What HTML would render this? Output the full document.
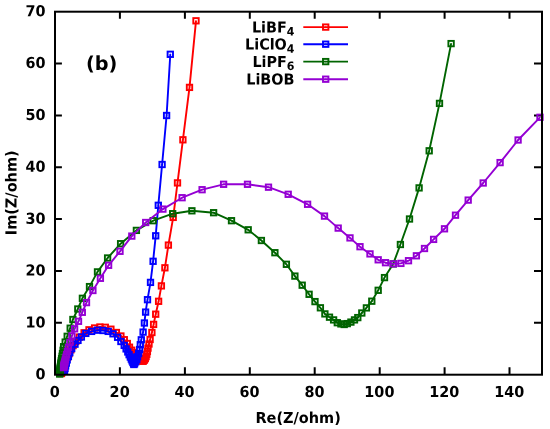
<!DOCTYPE html>
<html lang="en"><head><meta charset="utf-8"><title>Nyquist plot (b)</title>
<style>
html,body{margin:0;padding:0;background:#fff;}
body{width:550px;height:429px;overflow:hidden;position:relative;}
svg text{font-family:"DejaVu Sans","Liberation Sans",sans-serif;font-weight:bold;fill:#000;}
</style></head><body>
<svg width="550" height="429" viewBox="0 0 550 429" style="position:absolute;left:0;top:0">
<rect x="0" y="0" width="550" height="429" fill="#fff"/>
<defs>
<g id="m0"><rect x="-2.7" y="-2.7" width="5.4" height="5.4" fill="none" stroke="#ff0000" stroke-width="1.9"/><rect x="-0.6" y="-0.6" width="1.2" height="1.2" fill="#ff0000"/></g>
<g id="m1"><rect x="-2.7" y="-2.7" width="5.4" height="5.4" fill="none" stroke="#0000ff" stroke-width="1.9"/><rect x="-0.6" y="-0.6" width="1.2" height="1.2" fill="#0000ff"/></g>
<g id="m2"><rect x="-2.7" y="-2.7" width="5.4" height="5.4" fill="none" stroke="#006400" stroke-width="1.9"/><rect x="-0.6" y="-0.6" width="1.2" height="1.2" fill="#006400"/></g>
<g id="m3"><rect x="-2.7" y="-2.7" width="5.4" height="5.4" fill="none" stroke="#9400d3" stroke-width="1.9"/><rect x="-0.6" y="-0.6" width="1.2" height="1.2" fill="#9400d3"/></g>
</defs>
<path d="M119.9 374.7V367.2M119.9 11.7V18.7M184.9 374.7V367.2M184.9 11.7V18.7M249.8 374.7V367.2M249.8 11.7V18.7M314.7 374.7V367.2M314.7 11.7V18.7M379.7 374.7V367.2M379.7 11.7V18.7M444.6 374.7V367.2M444.6 11.7V18.7M509.5 374.7V367.2M509.5 11.7V18.7M55.0 322.8H61.9M542.0 322.8H534.0M55.0 271.0H61.9M542.0 271.0H534.0M55.0 219.1H61.9M542.0 219.1H534.0M55.0 167.3H61.9M542.0 167.3H534.0M55.0 115.4H61.9M542.0 115.4H534.0M55.0 63.6H61.9M542.0 63.6H534.0" stroke="#000" stroke-width="2" fill="none"/>
<path d="M196.0 20.8L189.5 87.4L182.9 139.8L177.5 182.9L173.2 217.4L168.4 245.1L164.9 267.8L161.4 285.9L158.6 301.3L155.7 314.2L153.6 324.4L151.9 332.5L150.1 339.5L149.0 344.0L148.0 348.1L147.4 351.5L146.8 354.3L146.1 356.6L145.3 358.6L144.4 360.1L143.2 360.9L142.8 361.1L142.8 361.1L141.5 360.3L140.2 359.3L138.8 358.0L137.3 356.5L135.6 354.7L133.7 352.6L131.7 350.2L129.5 347.2L127.3 343.5L124.3 339.7L120.9 336.0L116.4 332.5L110.9 329.2L105.3 327.3L99.9 327.0L94.6 328.0L89.0 329.8L84.1 332.8L79.3 337.1L75.8 341.4L73.1 345.6L70.9 349.8L69.1 353.7L67.6 357.3L66.3 360.7L65.1 363.9L64.0 366.7L63.0 369.4L62.1 371.8L61.5 373.5" fill="none" stroke="#ff0000" stroke-width="1.9" stroke-linejoin="round"/>
<use href="#m0" x="196.0" y="20.8"/>
<use href="#m0" x="189.5" y="87.4"/>
<use href="#m0" x="182.9" y="139.8"/>
<use href="#m0" x="177.5" y="182.9"/>
<use href="#m0" x="173.2" y="217.4"/>
<use href="#m0" x="168.4" y="245.1"/>
<use href="#m0" x="164.9" y="267.8"/>
<use href="#m0" x="161.4" y="285.9"/>
<use href="#m0" x="158.6" y="301.3"/>
<use href="#m0" x="155.7" y="314.2"/>
<use href="#m0" x="153.6" y="324.4"/>
<use href="#m0" x="151.9" y="332.5"/>
<use href="#m0" x="150.1" y="339.5"/>
<use href="#m0" x="149.0" y="344.0"/>
<use href="#m0" x="148.0" y="348.1"/>
<use href="#m0" x="147.4" y="351.5"/>
<use href="#m0" x="146.8" y="354.3"/>
<use href="#m0" x="146.1" y="356.6"/>
<use href="#m0" x="145.3" y="358.6"/>
<use href="#m0" x="144.4" y="360.1"/>
<use href="#m0" x="143.2" y="360.9"/>
<use href="#m0" x="142.8" y="361.1"/>
<use href="#m0" x="142.8" y="361.1"/>
<use href="#m0" x="141.5" y="360.3"/>
<use href="#m0" x="140.2" y="359.3"/>
<use href="#m0" x="138.8" y="358.0"/>
<use href="#m0" x="137.3" y="356.5"/>
<use href="#m0" x="135.6" y="354.7"/>
<use href="#m0" x="133.7" y="352.6"/>
<use href="#m0" x="131.7" y="350.2"/>
<use href="#m0" x="129.5" y="347.2"/>
<use href="#m0" x="127.3" y="343.5"/>
<use href="#m0" x="124.3" y="339.7"/>
<use href="#m0" x="120.9" y="336.0"/>
<use href="#m0" x="116.4" y="332.5"/>
<use href="#m0" x="110.9" y="329.2"/>
<use href="#m0" x="105.3" y="327.3"/>
<use href="#m0" x="99.9" y="327.0"/>
<use href="#m0" x="94.6" y="328.0"/>
<use href="#m0" x="89.0" y="329.8"/>
<use href="#m0" x="84.1" y="332.8"/>
<use href="#m0" x="79.3" y="337.1"/>
<use href="#m0" x="75.8" y="341.4"/>
<use href="#m0" x="73.1" y="345.6"/>
<use href="#m0" x="70.9" y="349.8"/>
<use href="#m0" x="69.1" y="353.7"/>
<use href="#m0" x="67.6" y="357.3"/>
<use href="#m0" x="66.3" y="360.7"/>
<use href="#m0" x="65.1" y="363.9"/>
<use href="#m0" x="64.0" y="366.7"/>
<use href="#m0" x="63.0" y="369.4"/>
<use href="#m0" x="62.1" y="371.8"/>
<use href="#m0" x="61.5" y="373.5"/>
<path d="M170.3 54.3L166.6 115.5L162.1 164.5L158.3 205.3L155.7 235.8L153.1 261.3L150.5 282.4L147.5 299.7L145.6 312.1L144.4 323.0L143.1 332.1L141.3 339.8L140.3 344.7L139.6 349.5L138.6 353.5L137.6 356.8L136.8 359.6L135.7 361.9L134.6 363.7L133.9 364.5L133.6 363.8L132.9 362.5L132.1 360.9L131.3 359.1L130.3 357.1L129.1 354.7L127.8 352.0L126.1 348.9L124.2 345.4L120.9 341.5L117.6 337.3L113.0 333.8L108.2 331.4L103.0 330.5L97.5 330.2L91.6 331.4L85.8 333.4L81.4 337.0L78.0 340.4L75.0 344.2L71.7 348.6L69.8 352.7L68.4 356.5L67.2 359.9L66.3 363.1L65.6 365.9L65.0 368.5L64.5 370.5" fill="none" stroke="#0000ff" stroke-width="1.9" stroke-linejoin="round"/>
<use href="#m1" x="170.3" y="54.3"/>
<use href="#m1" x="166.6" y="115.5"/>
<use href="#m1" x="162.1" y="164.5"/>
<use href="#m1" x="158.3" y="205.3"/>
<use href="#m1" x="155.7" y="235.8"/>
<use href="#m1" x="153.1" y="261.3"/>
<use href="#m1" x="150.5" y="282.4"/>
<use href="#m1" x="147.5" y="299.7"/>
<use href="#m1" x="145.6" y="312.1"/>
<use href="#m1" x="144.4" y="323.0"/>
<use href="#m1" x="143.1" y="332.1"/>
<use href="#m1" x="141.3" y="339.8"/>
<use href="#m1" x="140.3" y="344.7"/>
<use href="#m1" x="139.6" y="349.5"/>
<use href="#m1" x="138.6" y="353.5"/>
<use href="#m1" x="137.6" y="356.8"/>
<use href="#m1" x="136.8" y="359.6"/>
<use href="#m1" x="135.7" y="361.9"/>
<use href="#m1" x="134.6" y="363.7"/>
<use href="#m1" x="133.9" y="364.5"/>
<use href="#m1" x="133.6" y="363.8"/>
<use href="#m1" x="132.9" y="362.5"/>
<use href="#m1" x="132.1" y="360.9"/>
<use href="#m1" x="131.3" y="359.1"/>
<use href="#m1" x="130.3" y="357.1"/>
<use href="#m1" x="129.1" y="354.7"/>
<use href="#m1" x="127.8" y="352.0"/>
<use href="#m1" x="126.1" y="348.9"/>
<use href="#m1" x="124.2" y="345.4"/>
<use href="#m1" x="120.9" y="341.5"/>
<use href="#m1" x="117.6" y="337.3"/>
<use href="#m1" x="113.0" y="333.8"/>
<use href="#m1" x="108.2" y="331.4"/>
<use href="#m1" x="103.0" y="330.5"/>
<use href="#m1" x="97.5" y="330.2"/>
<use href="#m1" x="91.6" y="331.4"/>
<use href="#m1" x="85.8" y="333.4"/>
<use href="#m1" x="81.4" y="337.0"/>
<use href="#m1" x="78.0" y="340.4"/>
<use href="#m1" x="75.0" y="344.2"/>
<use href="#m1" x="71.7" y="348.6"/>
<use href="#m1" x="69.8" y="352.7"/>
<use href="#m1" x="68.4" y="356.5"/>
<use href="#m1" x="67.2" y="359.9"/>
<use href="#m1" x="66.3" y="363.1"/>
<use href="#m1" x="65.6" y="365.9"/>
<use href="#m1" x="65.0" y="368.5"/>
<use href="#m1" x="64.5" y="370.5"/>
<path d="M451.1 43.6L439.5 103.4L429.2 150.8L419.1 187.9L409.5 219.0L400.4 244.5L393.2 263.9L384.5 277.6L378.2 290.3L371.8 301.2L366.4 307.9L361.8 313.0L357.8 317.6L354.5 319.9L350.9 322.1L347.3 323.6L344.2 324.5L340.9 323.9L337.3 322.7L333.6 319.9L329.5 317.2L324.9 313.9L320.4 307.8L315.0 301.6L309.1 294.3L302.2 285.2L294.9 276.1L286.4 264.3L274.9 252.7L261.4 240.5L248.2 229.8L231.5 220.7L213.6 212.7L191.9 210.8L172.7 213.7L153.2 220.7L136.4 230.4L120.6 243.7L107.6 258.0L97.5 271.9L89.5 286.6L82.4 298.3L77.8 309.0L72.9 319.5L70.2 328.2L67.2 336.3L65.2 342.1L63.6 346.7L63.1 350.3L62.5 353.6L62.1 356.3L61.6 358.7L61.3 360.7L61.1 362.4L60.8 363.9L60.7 365.1L60.5 366.2L60.4 367.1L60.3 367.9L60.2 368.7L60.2 369.5L60.1 370.3L60.0 371.1L59.9 371.9L59.8 372.7L59.7 373.5L59.7 374.0" fill="none" stroke="#006400" stroke-width="1.9" stroke-linejoin="round"/>
<use href="#m2" x="451.1" y="43.6"/>
<use href="#m2" x="439.5" y="103.4"/>
<use href="#m2" x="429.2" y="150.8"/>
<use href="#m2" x="419.1" y="187.9"/>
<use href="#m2" x="409.5" y="219.0"/>
<use href="#m2" x="400.4" y="244.5"/>
<use href="#m2" x="393.2" y="263.9"/>
<use href="#m2" x="384.5" y="277.6"/>
<use href="#m2" x="378.2" y="290.3"/>
<use href="#m2" x="371.8" y="301.2"/>
<use href="#m2" x="366.4" y="307.9"/>
<use href="#m2" x="361.8" y="313.0"/>
<use href="#m2" x="357.8" y="317.6"/>
<use href="#m2" x="354.5" y="319.9"/>
<use href="#m2" x="350.9" y="322.1"/>
<use href="#m2" x="347.3" y="323.6"/>
<use href="#m2" x="344.2" y="324.5"/>
<use href="#m2" x="340.9" y="323.9"/>
<use href="#m2" x="337.3" y="322.7"/>
<use href="#m2" x="333.6" y="319.9"/>
<use href="#m2" x="329.5" y="317.2"/>
<use href="#m2" x="324.9" y="313.9"/>
<use href="#m2" x="320.4" y="307.8"/>
<use href="#m2" x="315.0" y="301.6"/>
<use href="#m2" x="309.1" y="294.3"/>
<use href="#m2" x="302.2" y="285.2"/>
<use href="#m2" x="294.9" y="276.1"/>
<use href="#m2" x="286.4" y="264.3"/>
<use href="#m2" x="274.9" y="252.7"/>
<use href="#m2" x="261.4" y="240.5"/>
<use href="#m2" x="248.2" y="229.8"/>
<use href="#m2" x="231.5" y="220.7"/>
<use href="#m2" x="213.6" y="212.7"/>
<use href="#m2" x="191.9" y="210.8"/>
<use href="#m2" x="172.7" y="213.7"/>
<use href="#m2" x="153.2" y="220.7"/>
<use href="#m2" x="136.4" y="230.4"/>
<use href="#m2" x="120.6" y="243.7"/>
<use href="#m2" x="107.6" y="258.0"/>
<use href="#m2" x="97.5" y="271.9"/>
<use href="#m2" x="89.5" y="286.6"/>
<use href="#m2" x="82.4" y="298.3"/>
<use href="#m2" x="77.8" y="309.0"/>
<use href="#m2" x="72.9" y="319.5"/>
<use href="#m2" x="70.2" y="328.2"/>
<use href="#m2" x="67.2" y="336.3"/>
<use href="#m2" x="65.2" y="342.1"/>
<use href="#m2" x="63.6" y="346.7"/>
<use href="#m2" x="63.1" y="350.3"/>
<use href="#m2" x="62.5" y="353.6"/>
<use href="#m2" x="62.1" y="356.3"/>
<use href="#m2" x="61.6" y="358.7"/>
<use href="#m2" x="61.3" y="360.7"/>
<use href="#m2" x="61.1" y="362.4"/>
<use href="#m2" x="60.8" y="363.9"/>
<use href="#m2" x="60.7" y="365.1"/>
<use href="#m2" x="60.5" y="366.2"/>
<use href="#m2" x="60.4" y="367.1"/>
<use href="#m2" x="60.3" y="367.9"/>
<use href="#m2" x="60.2" y="368.7"/>
<use href="#m2" x="60.2" y="369.5"/>
<use href="#m2" x="60.1" y="370.3"/>
<use href="#m2" x="60.0" y="371.1"/>
<use href="#m2" x="59.9" y="371.9"/>
<use href="#m2" x="59.8" y="372.7"/>
<use href="#m2" x="59.7" y="373.5"/>
<use href="#m2" x="59.7" y="374.0"/>
<path d="M540.0 117.3L518.1 140.0L500.1 162.6L483.2 183.0L468.2 200.1L455.5 215.2L444.5 228.8L433.6 239.4L424.5 248.5L416.4 255.8L408.5 260.7L400.9 263.4L393.3 263.9L385.5 262.7L378.2 259.8L370.0 253.9L360.0 246.7L350.0 237.9L338.2 228.1L324.5 216.1L307.6 204.3L288.2 194.3L268.5 187.2L247.5 184.3L223.6 184.3L202.1 189.7L182.1 197.7L162.9 209.1L145.7 222.5L131.8 236.1L120.0 251.3L108.6 265.3L100.4 278.3L92.9 290.5L86.5 302.6L82.3 312.3L78.5 321.3L74.6 328.8L71.9 335.9L69.9 342.5L68.5 347.3L67.4 351.4L66.5 354.6L65.9 357.3L65.4 359.4L65.0 361.1L64.7 362.4L64.5 363.5L64.3 364.3L64.1 365.1L63.9 365.9L63.8 366.7L63.6 367.5L63.6 367.5" fill="none" stroke="#9400d3" stroke-width="1.9" stroke-linejoin="round"/>
<use href="#m3" x="540.0" y="117.3"/>
<use href="#m3" x="518.1" y="140.0"/>
<use href="#m3" x="500.1" y="162.6"/>
<use href="#m3" x="483.2" y="183.0"/>
<use href="#m3" x="468.2" y="200.1"/>
<use href="#m3" x="455.5" y="215.2"/>
<use href="#m3" x="444.5" y="228.8"/>
<use href="#m3" x="433.6" y="239.4"/>
<use href="#m3" x="424.5" y="248.5"/>
<use href="#m3" x="416.4" y="255.8"/>
<use href="#m3" x="408.5" y="260.7"/>
<use href="#m3" x="400.9" y="263.4"/>
<use href="#m3" x="393.3" y="263.9"/>
<use href="#m3" x="385.5" y="262.7"/>
<use href="#m3" x="378.2" y="259.8"/>
<use href="#m3" x="370.0" y="253.9"/>
<use href="#m3" x="360.0" y="246.7"/>
<use href="#m3" x="350.0" y="237.9"/>
<use href="#m3" x="338.2" y="228.1"/>
<use href="#m3" x="324.5" y="216.1"/>
<use href="#m3" x="307.6" y="204.3"/>
<use href="#m3" x="288.2" y="194.3"/>
<use href="#m3" x="268.5" y="187.2"/>
<use href="#m3" x="247.5" y="184.3"/>
<use href="#m3" x="223.6" y="184.3"/>
<use href="#m3" x="202.1" y="189.7"/>
<use href="#m3" x="182.1" y="197.7"/>
<use href="#m3" x="162.9" y="209.1"/>
<use href="#m3" x="145.7" y="222.5"/>
<use href="#m3" x="131.8" y="236.1"/>
<use href="#m3" x="120.0" y="251.3"/>
<use href="#m3" x="108.6" y="265.3"/>
<use href="#m3" x="100.4" y="278.3"/>
<use href="#m3" x="92.9" y="290.5"/>
<use href="#m3" x="86.5" y="302.6"/>
<use href="#m3" x="82.3" y="312.3"/>
<use href="#m3" x="78.5" y="321.3"/>
<use href="#m3" x="74.6" y="328.8"/>
<use href="#m3" x="71.9" y="335.9"/>
<use href="#m3" x="69.9" y="342.5"/>
<use href="#m3" x="68.5" y="347.3"/>
<use href="#m3" x="67.4" y="351.4"/>
<use href="#m3" x="66.5" y="354.6"/>
<use href="#m3" x="65.9" y="357.3"/>
<use href="#m3" x="65.4" y="359.4"/>
<use href="#m3" x="65.0" y="361.1"/>
<use href="#m3" x="64.7" y="362.4"/>
<use href="#m3" x="64.5" y="363.5"/>
<use href="#m3" x="64.3" y="364.3"/>
<use href="#m3" x="64.1" y="365.1"/>
<use href="#m3" x="63.9" y="365.9"/>
<use href="#m3" x="63.8" y="366.7"/>
<use href="#m3" x="63.6" y="367.5"/>
<use href="#m3" x="63.6" y="367.5"/>
<path d="M303.3 27.1H348" stroke="#ff0000" stroke-width="1.9"/>
<use href="#m0" x="325.7" y="27.1"/>
<text transform="translate(294.5 32.4) rotate(0.03) scale(1 1.05)" text-anchor="end" font-size="14.4">LiBF<tspan font-size="11" dy="3.05">4</tspan></text>
<path d="M303.3 44.2H348" stroke="#0000ff" stroke-width="1.9"/>
<use href="#m1" x="325.7" y="44.2"/>
<text transform="translate(294.5 49.5) rotate(0.03) scale(1 1.05)" text-anchor="end" font-size="14.4">LiClO<tspan font-size="11" dy="3.05">4</tspan></text>
<path d="M303.3 61.6H348" stroke="#006400" stroke-width="1.9"/>
<use href="#m2" x="325.7" y="61.6"/>
<text transform="translate(294.5 66.9) rotate(0.03) scale(1 1.05)" text-anchor="end" font-size="14.4">LiPF<tspan font-size="11" dy="3.05">6</tspan></text>
<path d="M303.3 79.2H348" stroke="#9400d3" stroke-width="1.9"/>
<use href="#m3" x="325.7" y="79.2"/>
<text transform="translate(294.5 84.5) rotate(0.03) scale(1 1.05)" text-anchor="end" font-size="14.4">LiBOB</text>
<rect x="55.0" y="11.7" width="487.0" height="363.0" fill="none" stroke="#000" stroke-width="2"/>
<text transform="translate(54.7 397.1) rotate(0.03) scale(1 1.05)" text-anchor="middle" font-size="14.4">0</text>
<text transform="translate(119.63 397.1) rotate(0.03) scale(1 1.05)" text-anchor="middle" font-size="14.4">20</text>
<text transform="translate(184.57 397.1) rotate(0.03) scale(1 1.05)" text-anchor="middle" font-size="14.4">40</text>
<text transform="translate(249.5 397.1) rotate(0.03) scale(1 1.05)" text-anchor="middle" font-size="14.4">60</text>
<text transform="translate(314.43 397.1) rotate(0.03) scale(1 1.05)" text-anchor="middle" font-size="14.4">80</text>
<text transform="translate(379.37 397.1) rotate(0.03) scale(1 1.05)" text-anchor="middle" font-size="14.4">100</text>
<text transform="translate(444.3 397.1) rotate(0.03) scale(1 1.05)" text-anchor="middle" font-size="14.4">120</text>
<text transform="translate(509.23 397.1) rotate(0.03) scale(1 1.05)" text-anchor="middle" font-size="14.4">140</text>
<text transform="translate(45.4 379.25) rotate(0.03) scale(1 1.05)" text-anchor="end" font-size="14.4">0</text>
<text transform="translate(45.4 327.39) rotate(0.03) scale(1 1.05)" text-anchor="end" font-size="14.4">10</text>
<text transform="translate(45.4 275.54) rotate(0.03) scale(1 1.05)" text-anchor="end" font-size="14.4">20</text>
<text transform="translate(45.4 223.68) rotate(0.03) scale(1 1.05)" text-anchor="end" font-size="14.4">30</text>
<text transform="translate(45.4 171.82) rotate(0.03) scale(1 1.05)" text-anchor="end" font-size="14.4">40</text>
<text transform="translate(45.4 119.96) rotate(0.03) scale(1 1.05)" text-anchor="end" font-size="14.4">50</text>
<text transform="translate(45.4 68.11) rotate(0.03) scale(1 1.05)" text-anchor="end" font-size="14.4">60</text>
<text transform="translate(45.4 16.25) rotate(0.03) scale(1 1.05)" text-anchor="end" font-size="14.4">70</text>
<text transform="translate(298.1 422.9) rotate(0.03) scale(1 1.05)" text-anchor="middle" font-size="14.5">Re(Z/ohm)</text>
<text transform="translate(16.4 192.8) rotate(-89.97) scale(1 1.05)" text-anchor="middle" font-size="14.5">Im(Z/ohm)</text>
<text transform="translate(101.6 70.1) rotate(0.03)" text-anchor="middle" font-size="19.3">(b)</text>
</svg>
</body></html>
